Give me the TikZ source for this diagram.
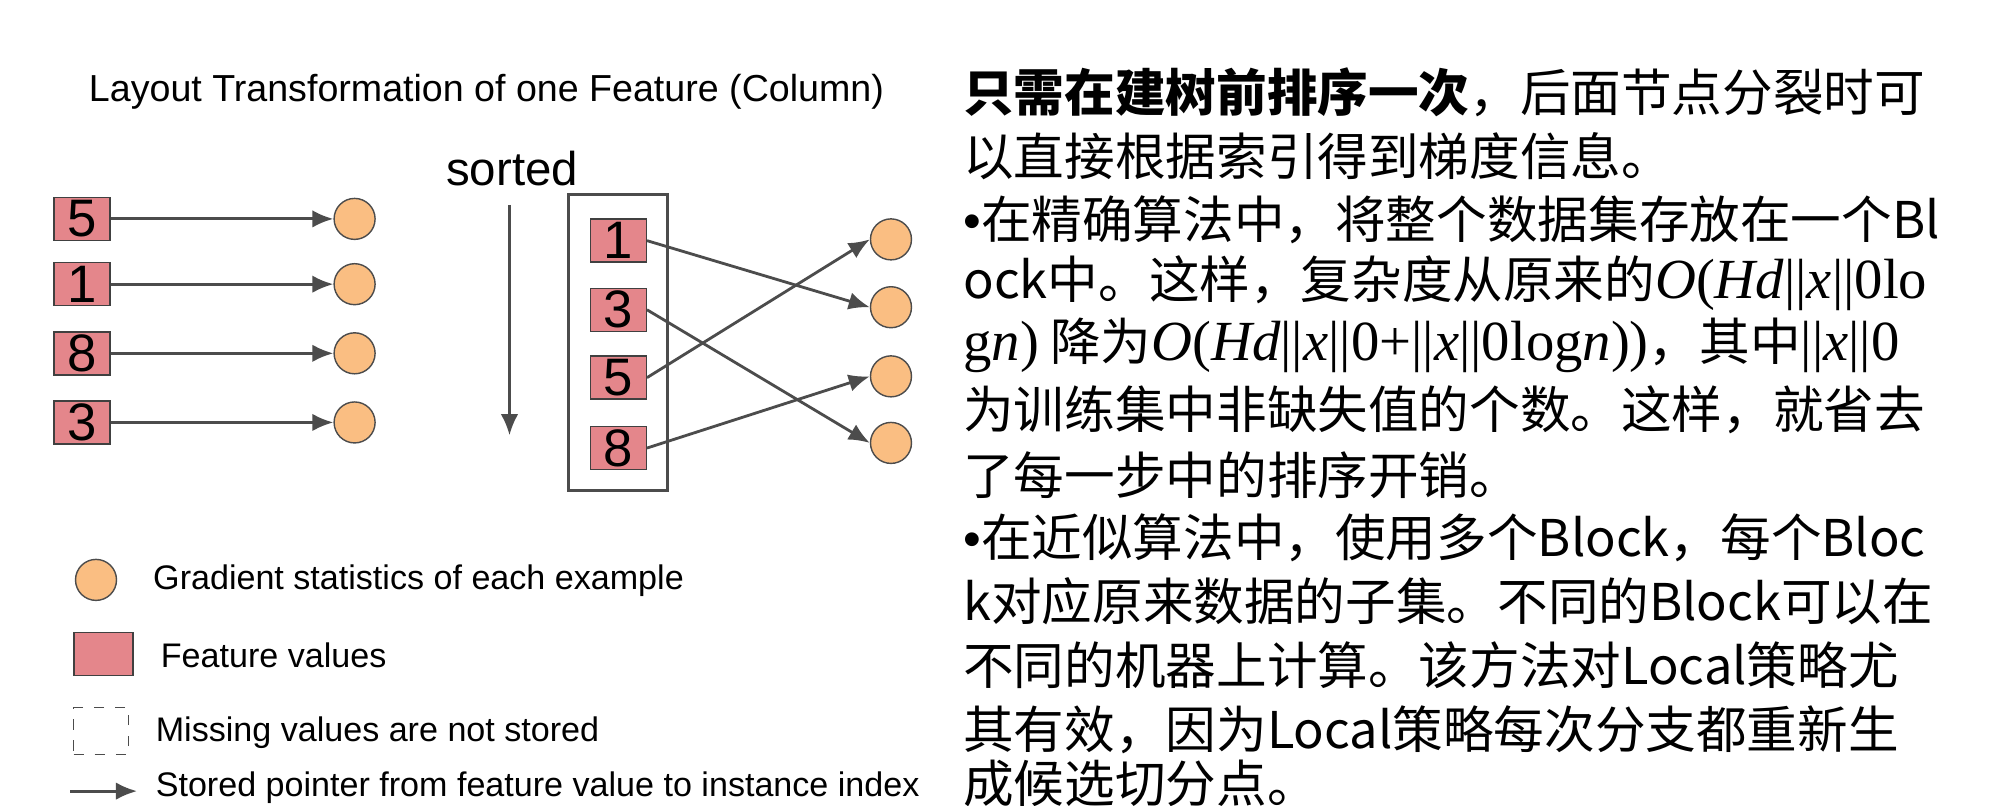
\documentclass[tikz,border=0pt]{standalone}
\usepackage{fontspec}
\setmainfont{Liberation Sans}
\newfontfamily\cjk{Noto Sans CJK SC}
\newfontfamily\myserif{Liberation Serif}[Scale=1.12]
\usetikzlibrary{arrows.meta}
\newcommand{\mi}[1]{{\myserif\itshape #1}}
\newcommand{\mr}[1]{{\myserif #1}}
\newcommand{\bul}{{\rmfamily •}}
\begin{document}
\begin{tikzpicture}[x=0.0128cm,y=-0.0128cm,
  fv/.style={draw=black!75,fill={rgb,255:red,228;green,134;blue,139},minimum width=0.56cm,minimum height=0.43cm,inner sep=0pt,font=\fontsize{15}{15}\selectfont},
  gs/.style={circle,draw=black!70,fill={rgb,255:red,250;green,190;blue,130},minimum size=0.41cm,inner sep=0pt},
  ptr/.style={draw=black!70,thick,-{Latex[length=6pt,width=5pt]}},
  leg/.style={anchor=west,font=\fontsize{9.7}{11}\selectfont},
  txt/.style={anchor=west,font=\cjk\fontsize{14.4}{18}\selectfont,inner sep=0pt}]
\useasboundingbox[fill=white] (0,0) rectangle (1567,629);
\node (title) at (380,72) {\fontsize{10.7}{12}\selectfont Layout Transformation of one Feature (Column)};
% left column
\foreach \v/\y/\n in {5/171/a,1/222/b,8/276/c,3/330/d}{
  \node[fv] (l\n) at (64,\y) {\v};
  \node[gs] (c\n) at (277,\y) {};
  \draw[ptr] (l\n.east) -- (c\n.west);
}
\node (sorted) at (400,132) {\fontsize{13.5}{14}\selectfont sorted};
\coordinate (s1) at (398,160);
\coordinate (s2) at (398,340);
\draw[draw=black!70,thick,-{Latex[length=6pt,width=5pt]}] (s1) -- (s2);
\node[draw=black!70,thick,minimum width=0.99cm,minimum height=2.96cm,inner sep=0pt] (box) at (482.5,267.5) {};
\foreach \v/\y/\n in {1/188/a,3/242/b,5/295/c,8/350/d}{
  \node[fv] (r\n) at (483,\y) {\v};
}
\foreach \y/\n in {187/a,240/b,294/c,346/d}{
  \node[gs] (k\n) at (696,\y) {};
}
\draw[ptr] (ra.east) -- (kb.west);
\draw[ptr] (rb.east) -- (kd.west);
\draw[ptr] (rc.east) -- (ka.west);
\draw[ptr] (rd.east) -- (kc.west);
% legend
\node[gs] (lg1) at (75,453) {};
\node[leg] (lt1) at (110,454) {Gradient statistics of each example};
\node[fv,minimum width=0.59cm] (lg2) at (81,511) {};
\node[leg] (lt2) at (116,512) {Feature values};
\node[draw=black!70,dashed,minimum width=0.55cm,minimum height=0.47cm,inner sep=0pt] (lg3) at (79,571) {};
\node[leg] (lt3) at (112,572) {Missing values are not stored};
\coordinate (la1) at (55,618);
\coordinate (la2) at (107,618);
\draw[ptr] (la1) -- (la2);
\node[leg] (lt4) at (112,615) {Stored pointer from feature value to instance index};
% right text
\node[txt] (t1) at (752,72) {\textbf{只需在建树前排序一次}，后面节点分裂时可};
\node[txt] (t2) at (752,122) {以直接根据索引得到梯度信息。};
\node[txt] (t3) at (752,172) {\bul 在精确算法中，将整个数据集存放在一个Bl};
\node[txt] (t4) at (752,221) {ock中。这样，复杂度从原来的\mi{O}\mr{(}\mi{Hd}\mr{||}\mi{x}\mr{||0lo}};
\node[txt] (t5) at (752,270) {\mr{g}\mi{n}\mr{)} 降为\mi{O}\mr{(}\mi{Hd}\mr{||}\mi{x}\mr{||0+||}\mi{x}\mr{||0log}\mi{n}\mr{))}，其中\mr{||}\mi{x}\mr{||0}};
\node[txt] (t6) at (752,320) {为训练集中非缺失值的个数。这样，就省去};
\node[txt] (t7) at (752,371) {了每一步中的排序开销。};
\node[txt] (t8) at (752,420) {\bul 在近似算法中，使用多个Block，每个Bloc};
\node[txt] (t9) at (752,470) {k对应原来数据的子集。不同的Block可以在};
\node[txt] (t10) at (752,520) {不同的机器上计算。该方法对Local策略尤};
\node[txt] (t11) at (752,570) {其有效，因为Local策略每次分支都重新生};
\node[txt] (t12) at (752,612) {成候选切分点。};
\end{tikzpicture}
\end{document}
